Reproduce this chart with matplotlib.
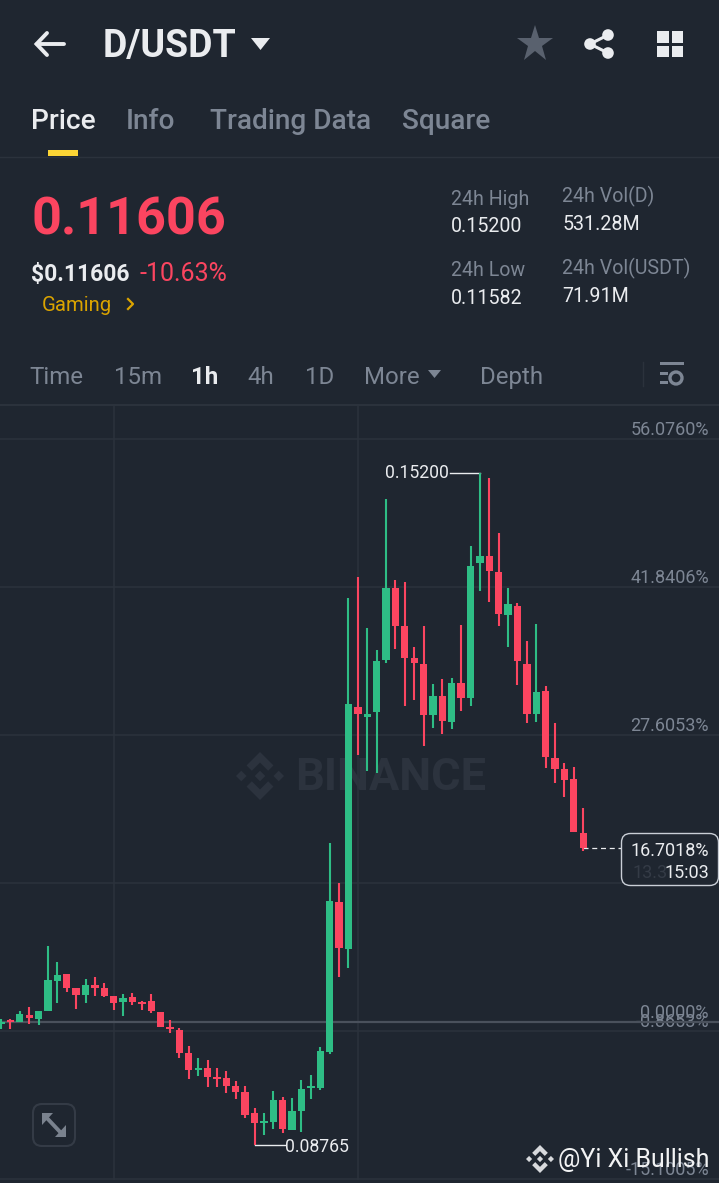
import matplotlib

matplotlib.use("Agg")
import matplotlib.pyplot as plt
import numpy as np
from matplotlib.patches import Circle, FancyBboxPatch, Polygon, Rectangle

plt.rcParams["font.family"] = ["Roboto", "DejaVu Sans"]

BG = "#1f2630"
GRID = "#2b323c"
GRAY = "#7d8694"
WHITE = "#eaecef"
RED = "#fb4560"
GREEN = "#2ebd85"

# hourly candles, percent change from the session base
opens = [-0.19, 0.16, 0.0, 0.70, 0.26, 1.03, 3.97, 4.62, 3.27, 2.60, 3.56, 3.27, 2.53, 1.89, 2.38, 1.92,
         2.05, 0.99, -0.51, -0.77, -2.98, -4.62, -4.45, -5.26, -5.36, -6.13, -6.73, -8.72, -9.71, -9.62,
         -7.50, -10.39, -8.56, -6.32, -6.32, -2.86, 11.54, 7.02, 30.33, 29.33, 29.82, 34.82, 41.74, 38.09,
         35.01, 34.43, 29.53, 31.35, 28.85, 32.60, 31.16, 44.15, 44.82, 43.28, 39.15, 40.01, 34.43, 29.62,
         31.84, 25.39, 24.33, 23.37, 18.18]
closes = [0.0, -0.03, 0.77, 0.38, 1.06, 4.04, 4.55, 3.30, 2.60, 3.56, 3.27, 2.50, 1.83, 2.34, 1.95, 1.76,
          1.06, -0.45, -0.67, -2.95, -4.62, -4.40, -5.26, -5.45, -6.13, -6.76, -8.94, -9.71, -9.55, -7.50,
          -10.32, -8.56, -6.41, -6.16, -2.82, 11.64, 7.15, 30.59, 29.62, 29.62, 34.72, 41.74, 38.09, 35.01,
          34.53, 29.53, 31.35, 28.95, 32.60, 31.16, 43.86, 44.82, 43.38, 39.24, 40.20, 34.72, 29.62, 31.74,
          25.49, 24.33, 23.28, 18.27, 16.70]
highs = [0.29, 0.32, 1.09, 1.44, 1.06, 7.28, 5.77, 4.62, 3.27, 4.11, 4.30, 3.75, 2.53, 2.72, 2.79, 2.02,
         2.72, 0.99, 0.16, -0.58, -2.31, -3.46, -3.66, -4.42, -4.68, -5.65, -6.18, -8.24, -8.78, -6.67,
         -7.24, -7.34, -5.61, -5.07, -2.40, 17.22, 13.37, 40.78, 42.80, 37.89, 35.78, 50.30, 42.51, 42.32,
         36.07, 38.09, 32.51, 32.99, 33.09, 38.18, 45.78, 52.80, 52.32, 47.03, 41.74, 40.30, 36.64, 38.28,
         32.32, 28.76, 24.91, 24.53, 20.58]
lows = [-0.67, -0.64, 0.0, -0.22, -0.29, 1.03, 1.83, 2.89, 1.28, 1.83, 2.50, 2.38, 1.15, 0.61, 1.66, 1.12,
        0.87, -0.45, -1.03, -3.43, -5.45, -5.19, -6.25, -6.25, -6.83, -7.43, -9.26, -11.87, -10.90, -10.29,
        -10.71, -10.39, -10.58, -7.37, -6.57, -3.11, 4.33, 5.19, 25.68, 24.14, 23.95, 34.53, 35.87, 30.39,
        30.97, 26.55, 28.28, 27.70, 28.18, 29.91, 30.39, 41.45, 40.40, 38.09, 36.07, 32.41, 28.76, 28.85,
        24.43, 22.99, 21.64, 18.27, 16.45]

tick_values = [56.0760, 41.8406, 27.6053, 13.3700, -0.8653, -15.1005]
tick_labels = ["56.0760%", "41.8406%", "27.6053%", "", "-0.8653%", "-15.1005%"]
high_index, high_label = 51, "0.15200"
low_index, low_label = 27, "0.08765"

tabs = [("Price", 31, WHITE), ("Info", 126, GRAY), ("Trading Data", 210, GRAY), ("Square", 402, GRAY)]
intervals = [("Time", 29), ("15m", 114), ("1h", 191), ("4h", 247), ("1D", 305), ("More", 364), ("Depth", 480)]
stats = [("24h High", 451, 199, GRAY), ("0.15200", 451, 226, WHITE),
         ("24h Vol(D)", 562, 196, GRAY), ("531.28M", 562, 224, WHITE),
         ("24h Low", 451, 270, GRAY), ("0.11582", 451, 298, WHITE),
         ("24h Vol(USDT)", 562, 268, GRAY), ("71.91M", 562, 296, WHITE)]


def pixel_axes(fig, zorder):
    ax = fig.add_axes([0, 0, 1, 1], zorder=zorder)
    ax.set_xlim(0, 719)
    ax.set_ylim(1183, 0)
    ax.axis("off")
    ax.patch.set_alpha(0)
    return ax


def draw_logo(ax, cx, cy, size, color, zorder=3):
    # five piece diamond mark, size is half the total height
    s = size
    pieces = [
        [(0, -0.22), (0.22, 0), (0, 0.22), (-0.22, 0)],
        [(-1, 0), (-0.78, -0.22), (-0.56, 0), (-0.78, 0.22)],
        [(1, 0), (0.78, -0.22), (0.56, 0), (0.78, 0.22)],
        [(0, -1), (0.56, -0.44), (0.34, -0.22), (0, -0.56), (-0.34, -0.22), (-0.56, -0.44)],
        [(0, 1), (0.56, 0.44), (0.34, 0.22), (0, 0.56), (-0.34, 0.22), (-0.56, 0.44)],
    ]
    for piece in pieces:
        ax.add_patch(Polygon([(cx + px * s, cy + py * s) for px, py in piece], color=color, lw=0, zorder=zorder))


fig = plt.figure(figsize=(7.19, 11.83), dpi=100, facecolor=BG)
ui = pixel_axes(fig, 0)

# header
ui.plot([37, 64], [44, 44], color=WHITE, lw=2.8, solid_capstyle="round")
ui.plot([47, 36.5, 47], [33, 44, 55], color=WHITE, lw=2.8, solid_capstyle="round", solid_joinstyle="miter")
ui.text(103, 46, "D/USDT", color=WHITE, fontsize=27, fontweight="bold", va="center")
ui.add_patch(Polygon([(251, 38), (270, 38), (260.5, 50)], color=WHITE, lw=0))
ui.plot([535], [43.5], marker="*", markersize=28, color="#59616e", markeredgewidth=0)
share = [(608, 35), (590, 44), (608, 53)]
ui.plot([p[0] for p in share], [p[1] for p in share], color=WHITE, lw=2.2)
for p in share:
    ui.add_patch(Circle(p, 5.8, color=WHITE, lw=0))
for gx in (657, 671.5):
    for gy in (31, 45.5):
        ui.add_patch(Rectangle((gx, gy), 11.5, 11.5, color=WHITE, lw=0))

for label, x, color in tabs:
    ui.text(x, 121, label, color=color, fontsize=20.2, fontweight="medium", va="center")
ui.add_patch(Rectangle((48, 150), 30, 6, color="#fcd535", lw=0))
ui.plot([0, 719], [156.5, 156.5], color=GRID, lw=1)

ui.text(31, 220, "0.11606", color=RED, fontsize=37.5, fontweight="bold", va="center")
ui.text(31, 274, "$0.11606", color=WHITE, fontsize=16.5, fontweight="bold", va="center")
ui.text(140, 274, "-10.63%", color=RED, fontsize=18, va="center")
ui.text(42, 305, "Gaming", color="#dba400", fontsize=14.6, va="center")
ui.plot([128, 133, 128], [299, 304, 309], color="#dba400", lw=1.6)
for label, x, y, color in stats:
    ui.text(x, y, label, color=color, fontsize=14.1, va="center")

for label, x in intervals:
    active = label == "1h"
    ui.text(x, 377, label, color=WHITE if active else GRAY, fontsize=17.3,
            fontweight="bold" if active else "normal", va="center")
ui.add_patch(Polygon([(428, 370), (441, 370), (434.5, 378)], color=GRAY, lw=0))
ui.plot([643, 643], [362, 386], color=GRID, lw=1)
ui.add_patch(Rectangle((660, 362), 24, 3, color=GRAY, lw=0))
ui.add_patch(Rectangle((660, 372), 8, 3, color=GRAY, lw=0))
ui.add_patch(Rectangle((660, 381), 8, 3, color=GRAY, lw=0))
ui.add_patch(Circle((676, 378), 6, facecolor=BG, edgecolor=GRAY, lw=2.4))
ui.plot([0, 719], [405, 405], color=GRID, lw=1.5)

# watermark sits under the candles
draw_logo(ui, 260, 776, 24, "#2c333e")
ui.text(295, 778, "BINANCE", color="#2c333e", fontsize=32.5, fontweight="bold", va="center")

# chart
ax = fig.add_axes([0, 3 / 1183, 1, 775 / 1183], zorder=1)
ax.patch.set_alpha(0)
ax.set_xlim(-0.106, 76.46)
ax.set_ylim(-15.2, 59.34)
for spine in ax.spines.values():
    spine.set_visible(False)

ax.set_xticks([12, 38])
ax.set_xticklabels([])
ax.set_yticks(tick_values)
ax.set_yticklabels(tick_labels)
ax.yaxis.tick_right()
ax.tick_params(axis="both", length=0)
ax.tick_params(axis="y", pad=-7.2, labelsize=13, labelcolor=GRAY)
for tick in ax.get_yticklabels():
    tick.set_ha("right")
    tick.set_va("bottom")
ax.grid(True, color=GRID, lw=1.2)
ax.set_axisbelow(True)
ax.axhline(0, color="#4a515c", lw=1.6, zorder=1)
ax.text(0.986, 0, "0.0000%", transform=ax.get_yaxis_transform(), color=GRAY, fontsize=13,
        ha="right", va="bottom", zorder=1)

idx = np.arange(len(opens))
o = np.array(opens)
c = np.array(closes)
colors = [GREEN if cv >= ov else RED for ov, cv in zip(o, c)]
ax.vlines(idx, lows, highs, colors=colors, lw=1.5, zorder=3)
ax.bar(idx, np.maximum(np.abs(c - o), 0.15), bottom=np.minimum(o, c), width=0.78, color=colors, lw=0, zorder=4)

ax.plot([high_index - 3.2, high_index], [highs[high_index]] * 2, color=WHITE, lw=1, zorder=2)
ax.text(high_index - 3.35, highs[high_index], high_label, color=WHITE, fontsize=12.7, ha="right", va="center")
ax.plot([low_index, low_index + 3.2], [lows[low_index]] * 2, color=WHITE, lw=1, zorder=2)
ax.text(low_index + 3.25, lows[low_index] - 0.12, low_label, color=WHITE, fontsize=12.7, ha="left", va="center")
ax.plot([len(opens) - 1, 66.1], [closes[-1]] * 2, color=WHITE, lw=0.9, ls=(0, (4, 3)), zorder=2)

top = pixel_axes(fig, 2)

# last price badge
top.add_patch(FancyBboxPatch((621.5, 833.5), 97, 52, boxstyle="round,pad=0,rounding_size=9",
                             facecolor=BG, edgecolor="#c9ced6", lw=1))
top.text(709, 851, "16.7018%", color=WHITE, fontsize=13, ha="right", va="center")
top.text(632, 873, "13.3", color="#343b46", fontsize=13, ha="left", va="center")
top.text(709, 873, "15:03", color=WHITE, fontsize=13, ha="right", va="center")

# expand button
top.add_patch(FancyBboxPatch((33, 1104), 42, 42, boxstyle="round,pad=0,rounding_size=9",
                             facecolor="none", edgecolor="#343b46", lw=1.5))
top.plot([45, 62], [1116, 1134], color="#7a828e", lw=2.8)
top.add_patch(Polygon([(42, 1113), (53, 1113), (42, 1125)], color="#7a828e", lw=0))
top.add_patch(Polygon([(66, 1137), (55, 1137), (66, 1125)], color="#7a828e", lw=0))

# uploader mark
draw_logo(top, 540, 1159, 14, "#d8dadd")
top.text(558, 1160, "@Yi Xi Bullish", color="#f2f3f4", fontsize=18, ha="left", va="center")

fig.savefig("out.png", dpi=100, facecolor=BG)
plt.close(fig)
